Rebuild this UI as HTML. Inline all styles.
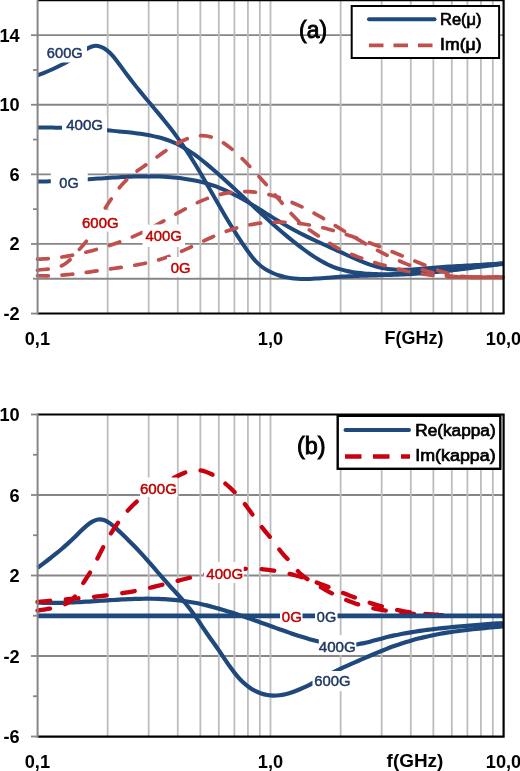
<!DOCTYPE html>
<html><head><meta charset="utf-8"><title>Permeability tensor components</title>
<style>
html,body{margin:0;padding:0;background:#fff;}
body{width:520px;height:771px;overflow:hidden;}
svg{display:block;font-family:"Liberation Sans",Arial,sans-serif;}
</style></head><body>
<svg width="520" height="771" viewBox="0 0 520 771">
<rect width="520" height="771" fill="#fff"/>
<line x1="37.5" y1="35.15" x2="503.5" y2="35.15" stroke="#868686" stroke-width="1.8"/>
<line x1="37.5" y1="104.75" x2="503.5" y2="104.75" stroke="#868686" stroke-width="1.8"/>
<line x1="37.5" y1="174.35" x2="503.5" y2="174.35" stroke="#868686" stroke-width="1.8"/>
<line x1="37.5" y1="243.95" x2="503.5" y2="243.95" stroke="#868686" stroke-width="1.8"/>
<line x1="107.64" y1="0.20" x2="107.64" y2="313.50" stroke="#BDBDBD" stroke-width="1.8"/>
<line x1="148.67" y1="0.20" x2="148.67" y2="313.50" stroke="#BDBDBD" stroke-width="1.8"/>
<line x1="177.78" y1="0.20" x2="177.78" y2="313.50" stroke="#BDBDBD" stroke-width="1.8"/>
<line x1="200.36" y1="0.20" x2="200.36" y2="313.50" stroke="#BDBDBD" stroke-width="1.8"/>
<line x1="218.81" y1="0.20" x2="218.81" y2="313.50" stroke="#BDBDBD" stroke-width="1.8"/>
<line x1="234.41" y1="0.20" x2="234.41" y2="313.50" stroke="#BDBDBD" stroke-width="1.8"/>
<line x1="247.92" y1="0.20" x2="247.92" y2="313.50" stroke="#BDBDBD" stroke-width="1.8"/>
<line x1="259.84" y1="0.20" x2="259.84" y2="313.50" stroke="#BDBDBD" stroke-width="1.8"/>
<line x1="340.64" y1="0.20" x2="340.64" y2="313.50" stroke="#BDBDBD" stroke-width="1.8"/>
<line x1="381.67" y1="0.20" x2="381.67" y2="313.50" stroke="#BDBDBD" stroke-width="1.8"/>
<line x1="410.78" y1="0.20" x2="410.78" y2="313.50" stroke="#BDBDBD" stroke-width="1.8"/>
<line x1="433.36" y1="0.20" x2="433.36" y2="313.50" stroke="#BDBDBD" stroke-width="1.8"/>
<line x1="451.81" y1="0.20" x2="451.81" y2="313.50" stroke="#BDBDBD" stroke-width="1.8"/>
<line x1="467.41" y1="0.20" x2="467.41" y2="313.50" stroke="#BDBDBD" stroke-width="1.8"/>
<line x1="480.92" y1="0.20" x2="480.92" y2="313.50" stroke="#BDBDBD" stroke-width="1.8"/>
<line x1="492.84" y1="0.20" x2="492.84" y2="313.50" stroke="#BDBDBD" stroke-width="1.8"/>
<line x1="270.50" y1="0.20" x2="270.50" y2="313.50" stroke="#BDBDBD" stroke-width="1.8"/>
<line x1="37.5" y1="278.75" x2="503.5" y2="278.75" stroke="#868686" stroke-width="1.8"/>
<path d="M37.50,75.49 C39.52,74.68 41.53,73.87 43.55,73.05 C45.56,72.22 47.58,71.37 49.59,70.50 C51.61,69.63 53.62,68.72 55.64,67.78 C57.65,66.84 59.67,65.85 61.68,64.81 C63.70,63.77 65.71,62.67 67.73,61.51 C69.74,60.35 71.76,59.13 73.77,57.82 C75.79,56.52 77.80,55.12 79.82,53.67 C81.83,52.22 83.85,50.74 85.86,49.47 C87.88,48.20 89.89,47.13 91.91,46.49 C93.92,45.85 95.94,45.67 97.95,45.97 C99.97,46.28 101.98,47.06 104.00,48.25 C106.02,49.45 108.03,51.06 110.05,53.03 C112.06,55.01 114.08,57.37 116.09,59.95 C118.11,62.54 120.12,65.33 122.14,68.12 C124.15,70.91 126.17,73.67 128.18,76.33 C130.20,79.00 132.21,81.59 134.23,84.13 C136.24,86.68 138.26,89.17 140.27,91.63 C142.29,94.08 144.30,96.51 146.32,98.92 C148.33,101.33 150.35,103.72 152.36,106.12 C154.38,108.53 156.39,110.93 158.41,113.36 C160.42,115.79 162.44,118.24 164.45,120.73 C166.47,123.22 168.48,125.76 170.50,128.35 C172.52,130.95 174.53,133.60 176.55,136.34 C178.56,139.07 180.58,141.89 182.59,144.80 C184.61,147.71 186.62,150.73 188.64,153.85 C190.65,156.97 192.67,160.20 194.68,163.50 C196.70,166.79 198.71,170.17 200.73,173.59 C202.74,177.02 204.76,180.49 206.77,183.99 C208.79,187.49 210.80,191.01 212.82,194.53 C214.83,198.05 216.85,201.57 218.86,205.07 C220.88,208.56 222.89,212.02 224.91,215.44 C226.92,218.85 228.94,222.21 230.95,225.50 C232.97,228.80 234.98,232.02 237.00,235.17 C239.02,238.32 241.03,241.38 243.05,244.36 C245.06,247.33 247.08,250.22 249.09,252.98 C251.11,255.74 253.12,258.34 255.14,260.56 C257.15,262.79 259.17,264.64 261.18,266.23 C263.20,267.81 265.21,269.12 267.23,270.26 C269.24,271.40 271.26,272.38 273.27,273.25 C275.29,274.12 277.30,274.87 279.32,275.51 C281.33,276.15 283.35,276.68 285.36,277.13 C287.38,277.57 289.39,277.92 291.41,278.19 C293.42,278.46 295.44,278.65 297.45,278.78 C299.47,278.91 301.48,278.98 303.50,278.99 C305.52,279.01 307.53,278.97 309.55,278.90 C311.56,278.82 313.58,278.72 315.59,278.59 C317.61,278.45 319.62,278.30 321.64,278.14 C323.65,277.98 325.67,277.81 327.68,277.64 C329.70,277.48 331.71,277.32 333.73,277.18 C335.74,277.04 337.76,276.91 339.77,276.79 C341.79,276.67 343.80,276.56 345.82,276.46 C347.83,276.36 349.85,276.26 351.86,276.18 C353.88,276.09 355.89,276.02 357.91,275.94 C359.92,275.87 361.94,275.80 363.95,275.74 C365.97,275.67 367.98,275.61 370.00,275.55 C372.02,275.50 374.03,275.44 376.05,275.38 C378.06,275.32 380.08,275.27 382.09,275.21 C384.11,275.15 386.12,275.09 388.14,275.03 C390.15,274.97 392.17,274.90 394.18,274.83 C396.20,274.76 398.21,274.68 400.23,274.60 C402.24,274.51 404.26,274.42 406.27,274.32 C408.29,274.23 410.30,274.12 412.32,274.00 C414.33,273.89 416.35,273.76 418.36,273.62 C420.38,273.48 422.39,273.33 424.41,273.17 C426.42,273.01 428.44,272.83 430.45,272.65 C432.47,272.46 434.48,272.27 436.50,272.07 C438.52,271.86 440.53,271.65 442.55,271.44 C444.56,271.22 446.58,270.99 448.59,270.76 C450.61,270.53 452.62,270.29 454.64,270.05 C456.65,269.80 458.67,269.56 460.68,269.31 C462.70,269.06 464.71,268.80 466.73,268.55 C468.74,268.29 470.76,268.03 472.77,267.78 C474.79,267.52 476.80,267.26 478.82,267.00 C480.83,266.74 482.85,266.48 484.86,266.23 C486.88,265.97 488.89,265.72 490.91,265.47 C492.92,265.22 494.94,264.97 496.95,264.73 C498.97,264.49 500.98,264.25 503.00,264.02" fill="none" stroke="#1F487C" stroke-width="4" stroke-linejoin="round"/>
<path d="M37.50,127.50 C39.52,127.49 41.53,127.50 43.55,127.51 C45.56,127.52 47.58,127.54 49.59,127.56 C51.61,127.59 53.62,127.62 55.64,127.67 C57.65,127.71 59.67,127.76 61.68,127.81 C63.70,127.87 65.71,127.93 67.73,128.01 C69.74,128.08 71.76,128.16 73.77,128.24 C75.79,128.33 77.80,128.43 79.82,128.53 C81.83,128.63 83.85,128.74 85.86,128.85 C87.88,128.97 89.89,129.09 91.91,129.22 C93.92,129.35 95.94,129.49 97.95,129.64 C99.97,129.78 101.98,129.93 104.00,130.09 C106.02,130.25 108.03,130.42 110.05,130.59 C112.06,130.76 114.08,130.94 116.09,131.13 C118.11,131.32 120.12,131.51 122.14,131.71 C124.15,131.91 126.17,132.12 128.18,132.34 C130.20,132.55 132.21,132.77 134.23,133.01 C136.24,133.25 138.26,133.50 140.27,133.78 C142.29,134.06 144.30,134.36 146.32,134.70 C148.33,135.04 150.35,135.42 152.36,135.84 C154.38,136.26 156.39,136.73 158.41,137.26 C160.42,137.78 162.44,138.37 164.45,139.01 C166.47,139.66 168.48,140.38 170.50,141.17 C172.52,141.96 174.53,142.83 176.55,143.78 C178.56,144.74 180.58,145.78 182.59,146.91 C184.61,148.05 186.62,149.28 188.64,150.58 C190.65,151.89 192.67,153.27 194.68,154.72 C196.70,156.17 198.71,157.69 200.73,159.26 C202.74,160.83 204.76,162.45 206.77,164.12 C208.79,165.79 210.80,167.50 212.82,169.25 C214.83,170.99 216.85,172.76 218.86,174.56 C220.88,176.35 222.89,178.17 224.91,179.99 C226.92,181.82 228.94,183.66 230.95,185.52 C232.97,187.37 234.98,189.24 237.00,191.11 C239.02,192.98 241.03,194.85 243.05,196.73 C245.06,198.61 247.08,200.49 249.09,202.36 C251.11,204.24 253.12,206.11 255.14,207.98 C257.15,209.84 259.17,211.70 261.18,213.54 C263.20,215.39 265.21,217.22 267.23,219.04 C269.24,220.86 271.26,222.66 273.27,224.44 C275.29,226.22 277.30,227.99 279.32,229.72 C281.33,231.46 283.35,233.18 285.36,234.87 C287.38,236.56 289.39,238.22 291.41,239.85 C293.42,241.48 295.44,243.09 297.45,244.66 C299.47,246.22 301.48,247.76 303.50,249.26 C305.52,250.75 307.53,252.20 309.55,253.60 C311.56,255.00 313.58,256.35 315.59,257.63 C317.61,258.91 319.62,260.12 321.64,261.26 C323.65,262.40 325.67,263.46 327.68,264.43 C329.70,265.39 331.71,266.27 333.73,267.06 C335.74,267.84 337.76,268.54 339.77,269.15 C341.79,269.77 343.80,270.30 345.82,270.77 C347.83,271.24 349.85,271.64 351.86,271.99 C353.88,272.33 355.89,272.62 357.91,272.86 C359.92,273.10 361.94,273.30 363.95,273.46 C365.97,273.63 367.98,273.76 370.00,273.86 C372.02,273.97 374.03,274.05 376.05,274.11 C378.06,274.16 380.08,274.20 382.09,274.22 C384.11,274.23 386.12,274.23 388.14,274.20 C390.15,274.18 392.17,274.13 394.18,274.07 C396.20,274.01 398.21,273.93 400.23,273.83 C402.24,273.74 404.26,273.63 406.27,273.50 C408.29,273.38 410.30,273.24 412.32,273.09 C414.33,272.93 416.35,272.77 418.36,272.60 C420.38,272.42 422.39,272.24 424.41,272.04 C426.42,271.85 428.44,271.64 430.45,271.43 C432.47,271.22 434.48,271.00 436.50,270.78 C438.52,270.55 440.53,270.32 442.55,270.09 C444.56,269.85 446.58,269.62 448.59,269.38 C450.61,269.14 452.62,268.89 454.64,268.65 C456.65,268.41 458.67,268.16 460.68,267.92 C462.70,267.68 464.71,267.44 466.73,267.20 C468.74,266.96 470.76,266.72 472.77,266.49 C474.79,266.26 476.80,266.03 478.82,265.81 C480.83,265.59 482.85,265.37 484.86,265.16 C486.88,264.96 488.89,264.76 490.91,264.57 C492.92,264.38 494.94,264.20 496.95,264.03 C498.97,263.86 500.98,263.70 503.00,263.55" fill="none" stroke="#1F487C" stroke-width="4" stroke-linejoin="round"/>
<path d="M37.50,181.50 C39.52,181.51 41.53,181.50 43.55,181.47 C45.56,181.45 47.58,181.41 49.59,181.36 C51.61,181.31 53.62,181.24 55.64,181.17 C57.65,181.09 59.67,181.01 61.68,180.91 C63.70,180.82 65.71,180.71 67.73,180.60 C69.74,180.49 71.76,180.37 73.77,180.24 C75.79,180.12 77.80,179.99 79.82,179.86 C81.83,179.72 83.85,179.59 85.86,179.45 C87.88,179.31 89.89,179.17 91.91,179.02 C93.92,178.88 95.94,178.74 97.95,178.60 C99.97,178.46 101.98,178.32 104.00,178.18 C106.02,178.05 108.03,177.92 110.05,177.79 C112.06,177.66 114.08,177.54 116.09,177.42 C118.11,177.31 120.12,177.20 122.14,177.10 C124.15,177.00 126.17,176.90 128.18,176.82 C130.20,176.74 132.21,176.67 134.23,176.61 C136.24,176.55 138.26,176.50 140.27,176.47 C142.29,176.44 144.30,176.42 146.32,176.41 C148.33,176.41 150.35,176.42 152.36,176.45 C154.38,176.48 156.39,176.52 158.41,176.59 C160.42,176.65 162.44,176.74 164.45,176.84 C166.47,176.95 168.48,177.08 170.50,177.23 C172.52,177.39 174.53,177.57 176.55,177.78 C178.56,177.99 180.58,178.23 182.59,178.50 C184.61,178.77 186.62,179.08 188.64,179.42 C190.65,179.76 192.67,180.13 194.68,180.55 C196.70,180.96 198.71,181.42 200.73,181.91 C202.74,182.41 204.76,182.94 206.77,183.53 C208.79,184.11 210.80,184.74 212.82,185.42 C214.83,186.10 216.85,186.82 218.86,187.60 C220.88,188.38 222.89,189.21 224.91,190.10 C226.92,190.99 228.94,191.93 230.95,192.92 C232.97,193.91 234.98,194.95 237.00,196.03 C239.02,197.10 241.03,198.22 243.05,199.36 C245.06,200.51 247.08,201.69 249.09,202.89 C251.11,204.09 253.12,205.31 255.14,206.55 C257.15,207.78 259.17,209.04 261.18,210.29 C263.20,211.55 265.21,212.81 267.23,214.08 C269.24,215.34 271.26,216.60 273.27,217.85 C275.29,219.09 277.30,220.33 279.32,221.55 C281.33,222.77 283.35,223.97 285.36,225.15 C287.38,226.32 289.39,227.47 291.41,228.58 C293.42,229.69 295.44,230.78 297.45,231.83 C299.47,232.88 301.48,233.91 303.50,234.91 C305.52,235.92 307.53,236.90 309.55,237.87 C311.56,238.83 313.58,239.78 315.59,240.72 C317.61,241.66 319.62,242.58 321.64,243.50 C323.65,244.42 325.67,245.33 327.68,246.24 C329.70,247.15 331.71,248.05 333.73,248.96 C335.74,249.87 337.76,250.79 339.77,251.71 C341.79,252.63 343.80,253.56 345.82,254.49 C347.83,255.42 349.85,256.35 351.86,257.26 C353.88,258.17 355.89,259.07 357.91,259.93 C359.92,260.80 361.94,261.63 363.95,262.42 C365.97,263.21 367.98,263.96 370.00,264.65 C372.02,265.34 374.03,265.97 376.05,266.52 C378.06,267.08 380.08,267.57 382.09,267.97 C384.11,268.37 386.12,268.70 388.14,268.96 C390.15,269.22 392.17,269.41 394.18,269.54 C396.20,269.68 398.21,269.75 400.23,269.79 C402.24,269.82 404.26,269.80 406.27,269.75 C408.29,269.69 410.30,269.60 412.32,269.49 C414.33,269.37 416.35,269.23 418.36,269.07 C420.38,268.91 422.39,268.73 424.41,268.55 C426.42,268.37 428.44,268.18 430.45,268.00 C432.47,267.82 434.48,267.64 436.50,267.47 C438.52,267.30 440.53,267.15 442.55,267.00 C444.56,266.86 446.58,266.72 448.59,266.59 C450.61,266.46 452.62,266.34 454.64,266.22 C456.65,266.10 458.67,265.99 460.68,265.88 C462.70,265.77 464.71,265.66 466.73,265.55 C468.74,265.44 470.76,265.33 472.77,265.23 C474.79,265.12 476.80,265.01 478.82,264.89 C480.83,264.78 482.85,264.66 484.86,264.54 C486.88,264.41 488.89,264.28 490.91,264.14 C492.92,264.00 494.94,263.86 496.95,263.70 C498.97,263.55 500.98,263.38 503.00,263.20" fill="none" stroke="#1F487C" stroke-width="4" stroke-linejoin="round"/>
<path d="M37.50,275.76 C39.52,275.84 41.53,275.89 43.55,275.90 C45.56,275.91 47.58,275.89 49.59,275.84 C51.61,275.78 53.62,275.70 55.64,275.60 C57.65,275.49 59.67,275.36 61.68,275.20 C63.70,275.04 65.71,274.87 67.73,274.67 C69.74,274.47 71.76,274.26 73.77,274.02 C75.79,273.79 77.80,273.54 79.82,273.29 C81.83,273.03 83.85,272.76 85.86,272.48 C87.88,272.20 89.89,271.91 91.91,271.62 C93.92,271.32 95.94,271.03 97.95,270.73 C99.97,270.43 101.98,270.13 104.00,269.83 C106.02,269.53 108.03,269.23 110.05,268.94 C112.06,268.65 114.08,268.37 116.09,268.08 C118.11,267.79 120.12,267.51 122.14,267.22 C124.15,266.92 126.17,266.62 128.18,266.31 C130.20,266.00 132.21,265.68 134.23,265.34 C136.24,264.99 138.26,264.63 140.27,264.25 C142.29,263.86 144.30,263.46 146.32,263.02 C148.33,262.58 150.35,262.11 152.36,261.60 C154.38,261.10 156.39,260.55 158.41,259.97 C160.42,259.39 162.44,258.76 164.45,258.09 C166.47,257.41 168.48,256.69 170.50,255.92 C172.52,255.15 174.53,254.34 176.55,253.49 C178.56,252.64 180.58,251.77 182.59,250.86 C184.61,249.96 186.62,249.03 188.64,248.09 C190.65,247.15 192.67,246.20 194.68,245.24 C196.70,244.28 198.71,243.32 200.73,242.37 C202.74,241.41 204.76,240.46 206.77,239.52 C208.79,238.59 210.80,237.67 212.82,236.77 C214.83,235.88 216.85,235.01 218.86,234.18 C220.88,233.34 222.89,232.54 224.91,231.79 C226.92,231.03 228.94,230.32 230.95,229.66 C232.97,229.00 234.98,228.38 237.00,227.81 C239.02,227.24 241.03,226.71 243.05,226.23 C245.06,225.75 247.08,225.31 249.09,224.92 C251.11,224.52 253.12,224.17 255.14,223.86 C257.15,223.55 259.17,223.29 261.18,223.06 C263.20,222.84 265.21,222.65 267.23,222.51 C269.24,222.36 271.26,222.26 273.27,222.20 C275.29,222.13 277.30,222.11 279.32,222.12 C281.33,222.13 283.35,222.18 285.36,222.27 C287.38,222.36 289.39,222.49 291.41,222.65 C293.42,222.82 295.44,223.01 297.45,223.25 C299.47,223.48 301.48,223.75 303.50,224.04 C305.52,224.34 307.53,224.67 309.55,225.03 C311.56,225.39 313.58,225.78 315.59,226.20 C317.61,226.62 319.62,227.07 321.64,227.54 C323.65,228.01 325.67,228.51 327.68,229.04 C329.70,229.56 331.71,230.11 333.73,230.68 C335.74,231.25 337.76,231.84 339.77,232.45 C341.79,233.07 343.80,233.70 345.82,234.35 C347.83,235.01 349.85,235.68 351.86,236.36 C353.88,237.05 355.89,237.75 357.91,238.47 C359.92,239.19 361.94,239.92 363.95,240.67 C365.97,241.41 367.98,242.17 370.00,242.94 C372.02,243.71 374.03,244.49 376.05,245.28 C378.06,246.07 380.08,246.87 382.09,247.67 C384.11,248.47 386.12,249.29 388.14,250.10 C390.15,250.92 392.17,251.74 394.18,252.57 C396.20,253.39 398.21,254.22 400.23,255.05 C402.24,255.88 404.26,256.71 406.27,257.54 C408.29,258.37 410.30,259.20 412.32,260.03 C414.33,260.85 416.35,261.68 418.36,262.51 C420.38,263.34 422.39,264.16 424.41,264.98 C426.42,265.80 428.44,266.62 430.45,267.42 C432.47,268.22 434.48,268.99 436.50,269.73 C438.52,270.47 440.53,271.17 442.55,271.81 C444.56,272.45 446.58,273.05 448.59,273.59 C450.61,274.13 452.62,274.61 454.64,275.04 C456.65,275.47 458.67,275.85 460.68,276.16 C462.70,276.47 464.71,276.73 466.73,276.92 C468.74,277.11 470.76,277.24 472.77,277.31 C474.79,277.38 476.80,277.40 478.82,277.38 C480.83,277.37 482.85,277.33 484.86,277.28 C486.88,277.22 488.89,277.17 490.91,277.13 C492.92,277.08 494.94,277.06 496.95,277.07 C498.97,277.09 500.98,277.14 503.00,277.26" fill="none" stroke="#C0504D" stroke-width="3.7" stroke-linejoin="round" stroke-dasharray="10.8 13.7" stroke-linecap="round"/>
<path d="M37.50,259.21 C39.52,259.16 41.53,259.07 43.55,258.96 C45.56,258.84 47.58,258.69 49.59,258.50 C51.61,258.32 53.62,258.11 55.64,257.87 C57.65,257.63 59.67,257.35 61.68,257.06 C63.70,256.76 65.71,256.43 67.73,256.08 C69.74,255.72 71.76,255.34 73.77,254.94 C75.79,254.54 77.80,254.11 79.82,253.66 C81.83,253.20 83.85,252.73 85.86,252.23 C87.88,251.74 89.89,251.22 91.91,250.68 C93.92,250.14 95.94,249.59 97.95,249.01 C99.97,248.43 101.98,247.84 104.00,247.22 C106.02,246.61 108.03,245.97 110.05,245.31 C112.06,244.65 114.08,243.97 116.09,243.25 C118.11,242.54 120.12,241.81 122.14,241.04 C124.15,240.28 126.17,239.48 128.18,238.65 C130.20,237.83 132.21,236.97 134.23,236.08 C136.24,235.19 138.26,234.27 140.27,233.31 C142.29,232.36 144.30,231.38 146.32,230.37 C148.33,229.36 150.35,228.32 152.36,227.26 C154.38,226.19 156.39,225.10 158.41,223.99 C160.42,222.88 162.44,221.75 164.45,220.61 C166.47,219.47 168.48,218.32 170.50,217.17 C172.52,216.01 174.53,214.86 176.55,213.72 C178.56,212.58 180.58,211.45 182.59,210.34 C184.61,209.23 186.62,208.13 188.64,207.07 C190.65,206.01 192.67,204.98 194.68,204.00 C196.70,203.01 198.71,202.06 200.73,201.16 C202.74,200.27 204.76,199.43 206.77,198.65 C208.79,197.87 210.80,197.15 212.82,196.50 C214.83,195.85 216.85,195.27 218.86,194.75 C220.88,194.23 222.89,193.78 224.91,193.39 C226.92,193.00 228.94,192.67 230.95,192.40 C232.97,192.14 234.98,191.94 237.00,191.80 C239.02,191.66 241.03,191.58 243.05,191.56 C245.06,191.55 247.08,191.59 249.09,191.69 C251.11,191.79 253.12,191.96 255.14,192.18 C257.15,192.40 259.17,192.68 261.18,193.02 C263.20,193.35 265.21,193.75 267.23,194.20 C269.24,194.65 271.26,195.16 273.27,195.72 C275.29,196.29 277.30,196.90 279.32,197.57 C281.33,198.24 283.35,198.96 285.36,199.72 C287.38,200.48 289.39,201.29 291.41,202.14 C293.42,202.99 295.44,203.88 297.45,204.81 C299.47,205.74 301.48,206.70 303.50,207.70 C305.52,208.70 307.53,209.73 309.55,210.79 C311.56,211.86 313.58,212.95 315.59,214.06 C317.61,215.18 319.62,216.32 321.64,217.48 C323.65,218.64 325.67,219.82 327.68,221.02 C329.70,222.22 331.71,223.43 333.73,224.66 C335.74,225.88 337.76,227.11 339.77,228.35 C341.79,229.58 343.80,230.82 345.82,232.05 C347.83,233.29 349.85,234.52 351.86,235.74 C353.88,236.96 355.89,238.17 357.91,239.37 C359.92,240.56 361.94,241.74 363.95,242.90 C365.97,244.06 367.98,245.20 370.00,246.32 C372.02,247.44 374.03,248.54 376.05,249.61 C378.06,250.68 380.08,251.74 382.09,252.76 C384.11,253.79 386.12,254.79 388.14,255.77 C390.15,256.75 392.17,257.70 394.18,258.62 C396.20,259.55 398.21,260.45 400.23,261.32 C402.24,262.19 404.26,263.03 406.27,263.85 C408.29,264.66 410.30,265.45 412.32,266.20 C414.33,266.96 416.35,267.68 418.36,268.37 C420.38,269.06 422.39,269.72 424.41,270.33 C426.42,270.95 428.44,271.53 430.45,272.06 C432.47,272.59 434.48,273.09 436.50,273.54 C438.52,273.99 440.53,274.39 442.55,274.76 C444.56,275.13 446.58,275.45 448.59,275.74 C450.61,276.02 452.62,276.27 454.64,276.47 C456.65,276.67 458.67,276.84 460.68,276.96 C462.70,277.09 464.71,277.17 466.73,277.23 C468.74,277.29 470.76,277.32 472.77,277.33 C474.79,277.34 476.80,277.33 478.82,277.32 C480.83,277.30 482.85,277.27 484.86,277.24 C486.88,277.22 488.89,277.19 490.91,277.17 C492.92,277.16 494.94,277.15 496.95,277.16 C498.97,277.17 500.98,277.20 503.00,277.27" fill="none" stroke="#C0504D" stroke-width="3.7" stroke-linejoin="round" stroke-dasharray="10.8 13.7" stroke-linecap="round"/>
<path d="M37.50,270.30 C39.52,269.94 41.53,269.72 43.55,269.53 C45.56,269.33 47.58,269.17 49.59,268.93 C51.61,268.69 53.62,268.38 55.64,267.88 C57.65,267.38 59.67,266.70 61.68,265.73 C63.70,264.76 65.71,263.50 67.73,261.85 C69.74,260.20 71.76,258.06 73.77,255.75 C75.79,253.43 77.80,251.03 79.82,248.89 C81.83,246.74 83.85,244.69 85.86,241.96 C87.88,239.24 89.89,235.67 91.91,231.83 C93.92,227.99 95.94,223.99 97.95,220.34 C99.97,216.69 101.98,213.28 104.00,210.04 C106.02,206.80 108.03,203.72 110.05,200.73 C112.06,197.74 114.08,194.80 116.09,192.04 C118.11,189.29 120.12,186.77 122.14,184.51 C124.15,182.25 126.17,180.22 128.18,178.37 C130.20,176.52 132.21,174.84 134.23,173.26 C136.24,171.68 138.26,170.21 140.27,168.79 C142.29,167.36 144.30,165.97 146.32,164.56 C148.33,163.15 150.35,161.71 152.36,160.26 C154.38,158.81 156.39,157.35 158.41,155.90 C160.42,154.45 162.44,153.02 164.45,151.63 C166.47,150.23 168.48,148.87 170.50,147.58 C172.52,146.28 174.53,145.05 176.55,143.90 C178.56,142.75 180.58,141.69 182.59,140.73 C184.61,139.78 186.62,138.93 188.64,138.22 C190.65,137.51 192.67,136.93 194.68,136.50 C196.70,136.08 198.71,135.81 200.73,135.72 C202.74,135.64 204.76,135.73 206.77,136.02 C208.79,136.32 210.80,136.83 212.82,137.53 C214.83,138.23 216.85,139.13 218.86,140.19 C220.88,141.25 222.89,142.49 224.91,143.86 C226.92,145.24 228.94,146.76 230.95,148.40 C232.97,150.03 234.98,151.79 237.00,153.64 C239.02,155.50 241.03,157.44 243.05,159.46 C245.06,161.48 247.08,163.57 249.09,165.70 C251.11,167.83 253.12,170.01 255.14,172.21 C257.15,174.42 259.17,176.65 261.18,178.91 C263.20,181.17 265.21,183.45 267.23,185.76 C269.24,188.06 271.26,190.39 273.27,192.74 C275.29,195.08 277.30,197.45 279.32,199.83 C281.33,202.21 283.35,204.60 285.36,206.94 C287.38,209.29 289.39,211.59 291.41,213.79 C293.42,215.99 295.44,218.08 297.45,220.03 C299.47,221.99 301.48,223.81 303.50,225.47 C305.52,227.13 307.53,228.64 309.55,230.07 C311.56,231.49 313.58,232.83 315.59,234.15 C317.61,235.46 319.62,236.75 321.64,238.08 C323.65,239.40 325.67,240.76 327.68,242.07 C329.70,243.39 331.71,244.66 333.73,245.84 C335.74,247.02 337.76,248.12 339.77,249.15 C341.79,250.17 343.80,251.13 345.82,252.03 C347.83,252.93 349.85,253.77 351.86,254.57 C353.88,255.37 355.89,256.13 357.91,256.87 C359.92,257.60 361.94,258.30 363.95,258.99 C365.97,259.68 367.98,260.36 370.00,261.02 C372.02,261.68 374.03,262.32 376.05,262.95 C378.06,263.58 380.08,264.19 382.09,264.78 C384.11,265.38 386.12,265.95 388.14,266.51 C390.15,267.07 392.17,267.61 394.18,268.12 C396.20,268.64 398.21,269.14 400.23,269.62 C402.24,270.10 404.26,270.55 406.27,270.99 C408.29,271.42 410.30,271.84 412.32,272.22 C414.33,272.61 416.35,272.98 418.36,273.32 C420.38,273.66 422.39,273.98 424.41,274.27 C426.42,274.56 428.44,274.82 430.45,275.06 C432.47,275.30 434.48,275.51 436.50,275.70 C438.52,275.88 440.53,276.05 442.55,276.19 C444.56,276.34 446.58,276.46 448.59,276.57 C450.61,276.67 452.62,276.76 454.64,276.83 C456.65,276.91 458.67,276.96 460.68,277.01 C462.70,277.06 464.71,277.09 466.73,277.12 C468.74,277.15 470.76,277.16 472.77,277.18 C474.79,277.19 476.80,277.20 478.82,277.20 C480.83,277.20 482.85,277.20 484.86,277.20 C486.88,277.21 488.89,277.21 490.91,277.21 C492.92,277.22 494.94,277.22 496.95,277.24 C498.97,277.25 500.98,277.27 503.00,277.30" fill="none" stroke="#C0504D" stroke-width="3.7" stroke-linejoin="round" stroke-dasharray="10.8 13.7" stroke-linecap="round"/>
<path d="M447,276.7 C460,277.3 480,277.5 503.5,277.4" fill="none" stroke="#C0504D" stroke-width="3.7"/>
<rect x="43.00" y="43.00" width="44.00" height="19.50" fill="#fff"/>
<text x="46.85" y="57.60" fill="#1F3864" stroke="#1F3864" stroke-width="0.45" font-size="14.50" font-weight="normal" textLength="35.91" lengthAdjust="spacingAndGlyphs">600G</text>
<rect x="62.00" y="115.00" width="45.00" height="20.00" fill="#fff"/>
<text x="66.15" y="130.20" fill="#1F3864" stroke="#1F3864" stroke-width="0.45" font-size="14.50" font-weight="normal" textLength="37.01" lengthAdjust="spacingAndGlyphs">400G</text>
<rect x="50.80" y="172.50" width="36.95" height="20.50" fill="#fff"/>
<text x="59.35" y="188.10" fill="#1F3864" stroke="#1F3864" stroke-width="0.45" font-size="14.50" font-weight="normal" textLength="19.31" lengthAdjust="spacingAndGlyphs">0G</text>
<rect x="78.00" y="210.50" width="44.00" height="21.00" fill="#fff"/>
<text x="82.05" y="227.70" fill="#C00000" stroke="#C00000" stroke-width="0.45" font-size="14.50" font-weight="normal" textLength="36.51" lengthAdjust="spacingAndGlyphs">600G</text>
<rect x="142.50" y="224.50" width="42.50" height="22.50" fill="#fff"/>
<text x="145.60" y="241.20" fill="#C00000" stroke="#C00000" stroke-width="0.45" font-size="14.50" font-weight="normal" textLength="36.31" lengthAdjust="spacingAndGlyphs">400G</text>
<rect x="167.00" y="257.00" width="28.00" height="20.30" fill="#fff"/>
<text x="170.65" y="273.30" fill="#C00000" stroke="#C00000" stroke-width="0.45" font-size="14.50" font-weight="normal" textLength="19.81" lengthAdjust="spacingAndGlyphs">0G</text>
<path d="M37.5,0.20 H503.6 V313.50 H37.5" fill="none" stroke="#000" stroke-width="2.2"/>
<line x1="37.6" y1="-0.80" x2="37.6" y2="314.50" stroke="#868686" stroke-width="2"/>
<line x1="31" y1="35.15" x2="37.6" y2="35.15" stroke="#868686" stroke-width="1.8"/>
<line x1="31" y1="104.75" x2="37.6" y2="104.75" stroke="#868686" stroke-width="1.8"/>
<line x1="31" y1="174.35" x2="37.6" y2="174.35" stroke="#868686" stroke-width="1.8"/>
<line x1="31" y1="243.95" x2="37.6" y2="243.95" stroke="#868686" stroke-width="1.8"/>
<line x1="31" y1="313.55" x2="37.6" y2="313.55" stroke="#868686" stroke-width="1.8"/>
<line x1="33" y1="69.95" x2="37.6" y2="69.95" stroke="#868686" stroke-width="1.8"/>
<line x1="33" y1="139.55" x2="37.6" y2="139.55" stroke="#868686" stroke-width="1.8"/>
<line x1="33" y1="209.15" x2="37.6" y2="209.15" stroke="#868686" stroke-width="1.8"/>
<line x1="33" y1="278.75" x2="37.6" y2="278.75" stroke="#868686" stroke-width="1.8"/>
<line x1="37.5" y1="495.00" x2="503.5" y2="495.00" stroke="#868686" stroke-width="1.8"/>
<line x1="37.5" y1="575.50" x2="503.5" y2="575.50" stroke="#868686" stroke-width="1.8"/>
<line x1="37.5" y1="656.00" x2="503.5" y2="656.00" stroke="#868686" stroke-width="1.8"/>
<line x1="107.64" y1="414.50" x2="107.64" y2="736.70" stroke="#BDBDBD" stroke-width="1.8"/>
<line x1="148.67" y1="414.50" x2="148.67" y2="736.70" stroke="#BDBDBD" stroke-width="1.8"/>
<line x1="177.78" y1="414.50" x2="177.78" y2="736.70" stroke="#BDBDBD" stroke-width="1.8"/>
<line x1="200.36" y1="414.50" x2="200.36" y2="736.70" stroke="#BDBDBD" stroke-width="1.8"/>
<line x1="218.81" y1="414.50" x2="218.81" y2="736.70" stroke="#BDBDBD" stroke-width="1.8"/>
<line x1="234.41" y1="414.50" x2="234.41" y2="736.70" stroke="#BDBDBD" stroke-width="1.8"/>
<line x1="247.92" y1="414.50" x2="247.92" y2="736.70" stroke="#BDBDBD" stroke-width="1.8"/>
<line x1="259.84" y1="414.50" x2="259.84" y2="736.70" stroke="#BDBDBD" stroke-width="1.8"/>
<line x1="340.64" y1="414.50" x2="340.64" y2="736.70" stroke="#BDBDBD" stroke-width="1.8"/>
<line x1="381.67" y1="414.50" x2="381.67" y2="736.70" stroke="#BDBDBD" stroke-width="1.8"/>
<line x1="410.78" y1="414.50" x2="410.78" y2="736.70" stroke="#BDBDBD" stroke-width="1.8"/>
<line x1="433.36" y1="414.50" x2="433.36" y2="736.70" stroke="#BDBDBD" stroke-width="1.8"/>
<line x1="451.81" y1="414.50" x2="451.81" y2="736.70" stroke="#BDBDBD" stroke-width="1.8"/>
<line x1="467.41" y1="414.50" x2="467.41" y2="736.70" stroke="#BDBDBD" stroke-width="1.8"/>
<line x1="480.92" y1="414.50" x2="480.92" y2="736.70" stroke="#BDBDBD" stroke-width="1.8"/>
<line x1="492.84" y1="414.50" x2="492.84" y2="736.70" stroke="#BDBDBD" stroke-width="1.8"/>
<line x1="270.50" y1="414.50" x2="270.50" y2="736.70" stroke="#BDBDBD" stroke-width="1.8"/>
<line x1="37.5" y1="615.75" x2="503.5" y2="615.75" stroke="#868686" stroke-width="1.8"/>
<path d="M37.50,567.80 C39.52,566.33 41.53,564.85 43.55,563.34 C45.56,561.84 47.58,560.32 49.59,558.76 C51.61,557.20 53.62,555.62 55.64,553.99 C57.65,552.36 59.67,550.69 61.68,548.98 C63.70,547.26 65.71,545.49 67.73,543.66 C69.74,541.83 71.76,539.94 73.77,537.98 C75.79,536.02 77.80,533.98 79.82,531.99 C81.83,530.00 83.85,528.07 85.86,526.34 C87.88,524.61 89.89,523.08 91.91,521.90 C93.92,520.72 95.94,519.89 97.95,519.55 C99.97,519.21 101.98,519.41 104.00,520.10 C106.02,520.78 108.03,521.93 110.05,523.36 C112.06,524.79 114.08,526.51 116.09,528.35 C118.11,530.19 120.12,532.12 122.14,534.06 C124.15,536.00 126.17,537.96 128.18,539.96 C130.20,541.95 132.21,543.98 134.23,546.05 C136.24,548.13 138.26,550.24 140.27,552.40 C142.29,554.56 144.30,556.78 146.32,559.04 C148.33,561.31 150.35,563.63 152.36,565.96 C154.38,568.30 156.39,570.65 158.41,573.00 C160.42,575.35 162.44,577.69 164.45,579.99 C166.47,582.29 168.48,584.55 170.50,586.75 C172.52,588.95 174.53,591.10 176.55,593.28 C178.56,595.46 180.58,597.67 182.59,599.97 C184.61,602.27 186.62,604.66 188.64,607.23 C190.65,609.79 192.67,612.54 194.68,615.41 C196.70,618.28 198.71,621.26 200.73,624.26 C202.74,627.26 204.76,630.27 206.77,633.22 C208.79,636.16 210.80,639.01 212.82,641.84 C214.83,644.68 216.85,647.51 218.86,650.42 C220.88,653.33 222.89,656.34 224.91,659.32 C226.92,662.30 228.94,665.26 230.95,668.06 C232.97,670.86 234.98,673.51 237.00,675.88 C239.02,678.26 241.03,680.39 243.05,682.28 C245.06,684.17 247.08,685.83 249.09,687.27 C251.11,688.72 253.12,689.95 255.14,690.98 C257.15,692.02 259.17,692.86 261.18,693.52 C263.20,694.18 265.21,694.67 267.23,695.00 C269.24,695.33 271.26,695.50 273.27,695.53 C275.29,695.57 277.30,695.46 279.32,695.23 C281.33,694.99 283.35,694.64 285.36,694.18 C287.38,693.72 289.39,693.16 291.41,692.51 C293.42,691.86 295.44,691.12 297.45,690.31 C299.47,689.50 301.48,688.63 303.50,687.70 C305.52,686.77 307.53,685.79 309.55,684.77 C311.56,683.76 313.58,682.71 315.59,681.64 C317.61,680.58 319.62,679.50 321.64,678.41 C323.65,677.33 325.67,676.25 327.68,675.19 C329.70,674.13 331.71,673.09 333.73,672.09 C335.74,671.08 337.76,670.10 339.77,669.15 C341.79,668.20 343.80,667.27 345.82,666.35 C347.83,665.44 349.85,664.54 351.86,663.65 C353.88,662.76 355.89,661.88 357.91,661.00 C359.92,660.12 361.94,659.24 363.95,658.37 C365.97,657.49 367.98,656.62 370.00,655.76 C372.02,654.89 374.03,654.03 376.05,653.19 C378.06,652.34 380.08,651.51 382.09,650.69 C384.11,649.88 386.12,649.08 388.14,648.30 C390.15,647.52 392.17,646.76 394.18,646.03 C396.20,645.29 398.21,644.58 400.23,643.91 C402.24,643.23 404.26,642.58 406.27,641.96 C408.29,641.34 410.30,640.75 412.32,640.18 C414.33,639.62 416.35,639.08 418.36,638.56 C420.38,638.05 422.39,637.56 424.41,637.09 C426.42,636.62 428.44,636.17 430.45,635.75 C432.47,635.32 434.48,634.92 436.50,634.53 C438.52,634.15 440.53,633.78 442.55,633.43 C444.56,633.08 446.58,632.75 448.59,632.44 C450.61,632.12 452.62,631.82 454.64,631.54 C456.65,631.25 458.67,630.98 460.68,630.72 C462.70,630.45 464.71,630.21 466.73,629.97 C468.74,629.73 470.76,629.50 472.77,629.28 C474.79,629.06 476.80,628.85 478.82,628.65 C480.83,628.44 482.85,628.24 484.86,628.05 C486.88,627.86 488.89,627.67 490.91,627.49 C492.92,627.30 494.94,627.12 496.95,626.94 C498.97,626.76 500.98,626.58 503.00,626.40" fill="none" stroke="#1F487C" stroke-width="4.2" stroke-linejoin="round"/>
<path d="M37.50,602.58 C39.52,602.67 41.53,602.74 43.55,602.80 C45.56,602.85 47.58,602.88 49.59,602.90 C51.61,602.91 53.62,602.91 55.64,602.89 C57.65,602.87 59.67,602.84 61.68,602.79 C63.70,602.74 65.71,602.68 67.73,602.61 C69.74,602.54 71.76,602.46 73.77,602.36 C75.79,602.27 77.80,602.17 79.82,602.06 C81.83,601.95 83.85,601.83 85.86,601.71 C87.88,601.59 89.89,601.47 91.91,601.34 C93.92,601.21 95.94,601.08 97.95,600.94 C99.97,600.81 101.98,600.68 104.00,600.55 C106.02,600.42 108.03,600.29 110.05,600.16 C112.06,600.03 114.08,599.91 116.09,599.79 C118.11,599.67 120.12,599.56 122.14,599.46 C124.15,599.35 126.17,599.26 128.18,599.17 C130.20,599.09 132.21,599.01 134.23,598.95 C136.24,598.88 138.26,598.83 140.27,598.79 C142.29,598.75 144.30,598.73 146.32,598.72 C148.33,598.72 150.35,598.72 152.36,598.75 C154.38,598.78 156.39,598.82 158.41,598.89 C160.42,598.96 162.44,599.04 164.45,599.15 C166.47,599.26 168.48,599.40 170.50,599.55 C172.52,599.71 174.53,599.89 176.55,600.10 C178.56,600.31 180.58,600.55 182.59,600.81 C184.61,601.08 186.62,601.37 188.64,601.70 C190.65,602.02 192.67,602.38 194.68,602.76 C196.70,603.15 198.71,603.56 200.73,604.00 C202.74,604.44 204.76,604.91 206.77,605.40 C208.79,605.89 210.80,606.41 212.82,606.94 C214.83,607.48 216.85,608.03 218.86,608.61 C220.88,609.19 222.89,609.78 224.91,610.39 C226.92,611.00 228.94,611.63 230.95,612.28 C232.97,612.92 234.98,613.58 237.00,614.24 C239.02,614.91 241.03,615.59 243.05,616.28 C245.06,616.97 247.08,617.67 249.09,618.38 C251.11,619.08 253.12,619.80 255.14,620.51 C257.15,621.23 259.17,621.95 261.18,622.68 C263.20,623.40 265.21,624.13 267.23,624.85 C269.24,625.58 271.26,626.31 273.27,627.03 C275.29,627.75 277.30,628.47 279.32,629.19 C281.33,629.90 283.35,630.61 285.36,631.31 C287.38,632.02 289.39,632.71 291.41,633.40 C293.42,634.08 295.44,634.76 297.45,635.42 C299.47,636.08 301.48,636.73 303.50,637.35 C305.52,637.98 307.53,638.59 309.55,639.16 C311.56,639.74 313.58,640.29 315.59,640.81 C317.61,641.32 319.62,641.80 321.64,642.24 C323.65,642.68 325.67,643.08 327.68,643.43 C329.70,643.78 331.71,644.08 333.73,644.33 C335.74,644.58 337.76,644.77 339.77,644.90 C341.79,645.03 343.80,645.10 345.82,645.10 C347.83,645.10 349.85,645.03 351.86,644.89 C353.88,644.74 355.89,644.52 357.91,644.22 C359.92,643.92 361.94,643.55 363.95,643.12 C365.97,642.69 367.98,642.21 370.00,641.70 C372.02,641.19 374.03,640.65 376.05,640.09 C378.06,639.54 380.08,638.98 382.09,638.43 C384.11,637.87 386.12,637.33 388.14,636.82 C390.15,636.32 392.17,635.85 394.18,635.41 C396.20,634.98 398.21,634.58 400.23,634.19 C402.24,633.81 404.26,633.44 406.27,633.09 C408.29,632.73 410.30,632.39 412.32,632.07 C414.33,631.74 416.35,631.43 418.36,631.13 C420.38,630.83 422.39,630.55 424.41,630.27 C426.42,630.00 428.44,629.74 430.45,629.48 C432.47,629.23 434.48,628.99 436.50,628.76 C438.52,628.53 440.53,628.30 442.55,628.09 C444.56,627.87 446.58,627.66 448.59,627.47 C450.61,627.27 452.62,627.07 454.64,626.89 C456.65,626.70 458.67,626.52 460.68,626.34 C462.70,626.17 464.71,626.00 466.73,625.83 C468.74,625.66 470.76,625.50 472.77,625.34 C474.79,625.18 476.80,625.02 478.82,624.86 C480.83,624.70 482.85,624.55 484.86,624.39 C486.88,624.24 488.89,624.08 490.91,623.93 C492.92,623.77 494.94,623.62 496.95,623.46 C498.97,623.30 500.98,623.14 503.00,622.98" fill="none" stroke="#1F487C" stroke-width="4.2" stroke-linejoin="round"/>
<path d="M37.50,610.60 C39.50,610.26 41.50,609.96 43.51,609.66 C45.51,609.35 47.51,609.05 49.51,608.70 C51.52,608.35 53.52,607.95 55.52,607.45 C57.52,606.95 59.53,606.35 61.53,605.60 C63.53,604.86 65.53,603.99 67.54,602.87 C69.54,601.75 71.54,600.32 73.54,598.13 C75.55,595.95 77.55,592.80 79.55,589.36 C81.55,585.92 83.56,582.50 85.56,579.45 C87.56,576.40 89.56,573.44 91.57,569.86 C93.57,566.27 95.57,562.20 97.57,558.18 C99.57,554.16 101.58,550.16 103.58,546.36 C105.58,542.57 107.58,539.00 109.59,535.65 C111.59,532.30 113.59,529.17 115.59,526.24 C117.60,523.30 119.60,520.56 121.60,518.00 C123.60,515.43 125.61,513.04 127.61,510.81 C129.61,508.57 131.61,506.49 133.62,504.55 C135.62,502.60 137.62,500.80 139.62,499.10 C141.63,497.41 143.63,495.84 145.63,494.36 C147.63,492.88 149.64,491.50 151.64,490.19 C153.64,488.89 155.64,487.66 157.64,486.49 C159.65,485.32 161.65,484.21 163.65,483.13 C165.65,482.06 167.66,481.02 169.66,480.00 C171.66,478.98 173.66,477.98 175.67,476.98 C177.67,475.98 179.67,474.99 181.67,474.08 C183.68,473.18 185.68,472.36 187.68,471.71 C189.68,471.05 191.69,470.56 193.69,470.32 C195.69,470.07 197.69,470.08 199.70,470.32 C201.70,470.56 203.70,471.04 205.70,471.71 C207.71,472.38 209.71,473.25 211.71,474.28 C213.71,475.32 215.71,476.51 217.72,477.84 C219.72,479.16 221.72,480.63 223.72,482.23 C225.73,483.83 227.73,485.57 229.73,487.44 C231.73,489.31 233.74,491.32 235.74,493.47 C237.74,495.61 239.74,497.89 241.75,500.31 C243.75,502.72 245.75,505.28 247.75,507.95 C249.76,510.63 251.76,513.42 253.76,516.20 C255.76,518.98 257.77,521.76 259.77,524.42 C261.77,527.09 263.77,529.61 265.78,531.99 C267.78,534.37 269.78,536.66 271.78,539.17 C273.79,541.68 275.79,544.54 277.79,547.37 C279.79,550.20 281.79,552.81 283.80,555.01 C285.80,557.21 287.80,559.16 289.80,561.34 C291.81,563.53 293.81,566.12 295.81,568.59 C297.81,571.07 299.82,573.27 301.82,575.00 C303.82,576.73 305.82,578.10 307.83,579.36 C309.83,580.63 311.83,581.83 313.83,583.04 C315.84,584.24 317.84,585.43 319.84,586.60 C321.84,587.77 323.85,588.92 325.85,590.04 C327.85,591.16 329.85,592.25 331.86,593.30 C333.86,594.35 335.86,595.36 337.86,596.33 C339.86,597.30 341.87,598.23 343.87,599.10 C345.87,599.98 347.87,600.80 349.88,601.56 C351.88,602.33 353.88,603.03 355.88,603.69 C357.89,604.35 359.89,604.96 361.89,605.52 C363.89,606.09 365.90,606.61 367.90,607.10 C369.90,607.58 371.90,608.04 373.91,608.46 C375.91,608.88 377.91,609.28 379.91,609.65 C381.92,610.02 383.92,610.37 385.92,610.70 C387.92,611.03 389.93,611.33 391.93,611.61 C393.93,611.90 395.93,612.16 397.93,612.40 C399.94,612.64 401.94,612.87 403.94,613.07 C405.94,613.28 407.95,613.47 409.95,613.64 C411.95,613.81 413.95,613.97 415.96,614.11 C417.96,614.25 419.96,614.38 421.96,614.49 C423.97,614.60 425.97,614.70 427.97,614.79 C429.97,614.88 431.98,614.95 433.98,615.02 C435.98,615.09 437.98,615.14 439.99,615.19 C441.99,615.24 443.99,615.28 445.99,615.31 C448.00,615.35 450.00,615.37 452.00,615.39" fill="none" stroke="#C80010" stroke-width="4.3" stroke-linejoin="round" stroke-dasharray="12.7 15.7" stroke-linecap="round"/>
<path d="M37.50,601.97 C39.50,601.76 41.50,601.56 43.51,601.37 C45.51,601.17 47.51,600.98 49.51,600.80 C51.52,600.61 53.52,600.43 55.52,600.26 C57.52,600.08 59.53,599.91 61.53,599.74 C63.53,599.56 65.53,599.39 67.54,599.22 C69.54,599.05 71.54,598.88 73.54,598.71 C75.55,598.53 77.55,598.36 79.55,598.18 C81.55,598.00 83.56,597.82 85.56,597.63 C87.56,597.44 89.56,597.25 91.57,597.05 C93.57,596.85 95.57,596.64 97.57,596.42 C99.57,596.21 101.58,595.98 103.58,595.75 C105.58,595.52 107.58,595.27 109.59,595.01 C111.59,594.76 113.59,594.49 115.59,594.21 C117.60,593.92 119.60,593.63 121.60,593.32 C123.60,593.01 125.61,592.68 127.61,592.34 C129.61,591.99 131.61,591.64 133.62,591.26 C135.62,590.88 137.62,590.48 139.62,590.06 C141.63,589.65 143.63,589.21 145.63,588.76 C147.63,588.32 149.64,587.85 151.64,587.38 C153.64,586.90 155.64,586.41 157.64,585.92 C159.65,585.42 161.65,584.92 163.65,584.41 C165.65,583.90 167.66,583.38 169.66,582.87 C171.66,582.35 173.66,581.83 175.67,581.31 C177.67,580.80 179.67,580.28 181.67,579.77 C183.68,579.26 185.68,578.75 187.68,578.25 C189.68,577.75 191.69,577.26 193.69,576.78 C195.69,576.30 197.69,575.83 199.70,575.37 C201.70,574.91 203.70,574.47 205.70,574.05 C207.71,573.62 209.71,573.21 211.71,572.83 C213.71,572.44 215.71,572.07 217.72,571.73 C219.72,571.39 221.72,571.07 223.72,570.77 C225.73,570.48 227.73,570.22 229.73,569.98 C231.73,569.75 233.74,569.54 235.74,569.37 C237.74,569.20 239.74,569.06 241.75,568.96 C243.75,568.85 245.75,568.79 247.75,568.76 C249.76,568.74 251.76,568.75 253.76,568.81 C255.76,568.86 257.77,568.96 259.77,569.09 C261.77,569.23 263.77,569.40 265.78,569.61 C267.78,569.82 269.78,570.07 271.78,570.36 C273.79,570.64 275.79,570.97 277.79,571.33 C279.79,571.68 281.79,572.08 283.80,572.51 C285.80,572.94 287.80,573.40 289.80,573.89 C291.81,574.39 293.81,574.92 295.81,575.48 C297.81,576.04 299.82,576.64 301.82,577.26 C303.82,577.89 305.82,578.54 307.83,579.23 C309.83,579.91 311.83,580.63 313.83,581.36 C315.84,582.10 317.84,582.86 319.84,583.64 C321.84,584.41 323.85,585.21 325.85,586.01 C327.85,586.81 329.85,587.62 331.86,588.44 C333.86,589.25 335.86,590.07 337.86,590.88 C339.86,591.70 341.87,592.51 343.87,593.31 C345.87,594.11 347.87,594.90 349.88,595.67 C351.88,596.45 353.88,597.21 355.88,597.95 C357.89,598.70 359.89,599.42 361.89,600.13 C363.89,600.84 365.90,601.53 367.90,602.19 C369.90,602.86 371.90,603.50 373.91,604.12 C375.91,604.73 377.91,605.32 379.91,605.89 C381.92,606.45 383.92,606.98 385.92,607.48 C387.92,607.98 389.93,608.46 391.93,608.90 C393.93,609.35 395.93,609.77 397.93,610.16 C399.94,610.55 401.94,610.91 403.94,611.25 C405.94,611.59 407.95,611.91 409.95,612.20 C411.95,612.48 413.95,612.75 415.96,612.99 C417.96,613.23 419.96,613.44 421.96,613.64 C423.97,613.83 425.97,614.00 427.97,614.15 C429.97,614.30 431.98,614.43 433.98,614.54 C435.98,614.64 437.98,614.73 439.99,614.80 C441.99,614.86 443.99,614.91 445.99,614.94 C448.00,614.97 450.00,614.98 452.00,614.97" fill="none" stroke="#C80010" stroke-width="4.3" stroke-linejoin="round" stroke-dasharray="12.7 15.7" stroke-linecap="round"/>
<path d="M37.50,615.90 L503.00,615.90" fill="none" stroke="#1F487C" stroke-width="4.8" stroke-linejoin="round"/>
<rect x="140.00" y="477.50" width="37.50" height="19.50" fill="#fff"/>
<text x="139.95" y="494.40" fill="#C00000" stroke="#C00000" stroke-width="0.45" font-size="14.50" font-weight="normal" textLength="36.96" lengthAdjust="spacingAndGlyphs">600G</text>
<rect x="203.75" y="562.00" width="40.00" height="21.00" fill="#fff"/>
<text x="206.35" y="578.75" fill="#C00000" stroke="#C00000" stroke-width="0.45" font-size="14.50" font-weight="normal" textLength="36.81" lengthAdjust="spacingAndGlyphs">400G</text>
<rect x="280.00" y="607.00" width="22.50" height="20.00" fill="#fff"/>
<text x="281.85" y="622.00" fill="#C00000" stroke="#C00000" stroke-width="0.45" font-size="14.50" font-weight="normal" textLength="20.05" lengthAdjust="spacingAndGlyphs">0G</text>
<rect x="315.00" y="607.00" width="22.50" height="20.00" fill="#fff"/>
<text x="316.85" y="622.00" fill="#1F3864" stroke="#1F3864" stroke-width="0.45" font-size="14.50" font-weight="normal" textLength="19.30" lengthAdjust="spacingAndGlyphs">0G</text>
<rect x="318.80" y="635.00" width="37.50" height="20.00" fill="#fff"/>
<text x="318.75" y="651.90" fill="#1F3864" stroke="#1F3864" stroke-width="0.45" font-size="14.50" font-weight="normal" textLength="37.10" lengthAdjust="spacingAndGlyphs">400G</text>
<rect x="312.50" y="671.00" width="39.50" height="20.00" fill="#fff"/>
<text x="314.35" y="686.25" fill="#1F3864" stroke="#1F3864" stroke-width="0.45" font-size="14.50" font-weight="normal" textLength="36.30" lengthAdjust="spacingAndGlyphs">600G</text>
<path d="M37.5,414.50 H503.6 V736.70 H37.5" fill="none" stroke="#000" stroke-width="2.2"/>
<line x1="37.6" y1="413.50" x2="37.6" y2="737.70" stroke="#868686" stroke-width="2"/>
<line x1="31" y1="414.50" x2="37.6" y2="414.50" stroke="#868686" stroke-width="1.8"/>
<line x1="31" y1="495.00" x2="37.6" y2="495.00" stroke="#868686" stroke-width="1.8"/>
<line x1="31" y1="575.50" x2="37.6" y2="575.50" stroke="#868686" stroke-width="1.8"/>
<line x1="31" y1="656.00" x2="37.6" y2="656.00" stroke="#868686" stroke-width="1.8"/>
<line x1="31" y1="736.50" x2="37.6" y2="736.50" stroke="#868686" stroke-width="1.8"/>
<line x1="33" y1="454.75" x2="37.6" y2="454.75" stroke="#868686" stroke-width="1.8"/>
<line x1="33" y1="535.25" x2="37.6" y2="535.25" stroke="#868686" stroke-width="1.8"/>
<line x1="33" y1="615.75" x2="37.6" y2="615.75" stroke="#868686" stroke-width="1.8"/>
<line x1="33" y1="696.25" x2="37.6" y2="696.25" stroke="#868686" stroke-width="1.8"/>
<rect x="351.7" y="6" width="147.4" height="52" fill="#fff" stroke="#000" stroke-width="2"/>
<line x1="369" y1="19.3" x2="434.5" y2="19.3" stroke="#1F487C" stroke-width="4" stroke-linecap="round"/>
<line x1="369" y1="45.3" x2="433.5" y2="45.3" stroke="#C0504D" stroke-width="3.7" stroke-dasharray="14.5 10"/>
<text x="440.07" y="25.00" fill="#000" stroke="#000" stroke-width="0.70" font-size="16.30" font-weight="normal" textLength="41.47" lengthAdjust="spacingAndGlyphs">Re(μ)</text>
<text x="440.07" y="50.20" fill="#000" stroke="#000" stroke-width="0.70" font-size="16.30" font-weight="normal" textLength="41.47" lengthAdjust="spacingAndGlyphs">Im(μ)</text>
<rect x="337.7" y="415.8" width="162.6" height="53" fill="#fff" stroke="#000" stroke-width="2.4"/>
<line x1="345.5" y1="430" x2="409" y2="430" stroke="#1F487C" stroke-width="4" stroke-linecap="round"/>
<line x1="345" y1="456.5" x2="410" y2="456.5" stroke="#C80010" stroke-width="4.4" stroke-dasharray="16.5 11.5"/>
<text x="415.27" y="435.60" fill="#000" stroke="#000" stroke-width="0.70" font-size="16.30" font-weight="normal" textLength="80.37" lengthAdjust="spacingAndGlyphs">Re(kappa)</text>
<text x="415.27" y="461.00" fill="#000" stroke="#000" stroke-width="0.70" font-size="16.30" font-weight="normal" textLength="80.37" lengthAdjust="spacingAndGlyphs">Im(kappa)</text>
<text x="19.60" y="41.65" text-anchor="end" font-size="18.2" font-weight="bold">14</text>
<text x="19.60" y="111.25" text-anchor="end" font-size="18.2" font-weight="bold">10</text>
<text x="19.60" y="180.85" text-anchor="end" font-size="18.2" font-weight="bold">6</text>
<text x="19.60" y="250.45" text-anchor="end" font-size="18.2" font-weight="bold">2</text>
<text x="19.60" y="320.05" text-anchor="end" font-size="18.2" font-weight="bold">-2</text>
<text x="19.60" y="421.00" text-anchor="end" font-size="18.2" font-weight="bold">10</text>
<text x="19.60" y="501.50" text-anchor="end" font-size="18.2" font-weight="bold">6</text>
<text x="19.60" y="582.00" text-anchor="end" font-size="18.2" font-weight="bold">2</text>
<text x="19.60" y="662.50" text-anchor="end" font-size="18.2" font-weight="bold">-2</text>
<text x="19.60" y="743.00" text-anchor="end" font-size="18.2" font-weight="bold">-6</text>
<text x="37.40" y="344.60" text-anchor="middle" font-size="18.2" font-weight="bold">0,1</text>
<text x="270.50" y="344.60" text-anchor="middle" font-size="18.2" font-weight="bold">1,0</text>
<text x="503.50" y="344.60" text-anchor="middle" font-size="18.2" font-weight="bold">10,0</text>
<text x="37.40" y="767.80" text-anchor="middle" font-size="18.2" font-weight="bold">0,1</text>
<text x="270.50" y="767.80" text-anchor="middle" font-size="18.2" font-weight="bold">1,0</text>
<text x="503.50" y="767.80" text-anchor="middle" font-size="18.2" font-weight="bold">10,0</text>
<text x="384.60" y="344.00" fill="#000" font-size="17.70" font-weight="bold" textLength="58.79" lengthAdjust="spacingAndGlyphs">F(GHz)</text>
<text x="386.60" y="767.30" fill="#000" font-size="17.70" font-weight="bold" textLength="56.79" lengthAdjust="spacingAndGlyphs">f(GHz)</text>
<text x="299.04" y="37.80" fill="#000" stroke="#000" stroke-width="0.90" font-size="23.50" font-weight="normal" textLength="28.01" lengthAdjust="spacingAndGlyphs">(a)</text>
<text x="296.94" y="453.60" fill="#000" stroke="#000" stroke-width="0.90" font-size="23.50" font-weight="normal" textLength="28.72" lengthAdjust="spacingAndGlyphs">(b)</text>
</svg>
</body></html>
